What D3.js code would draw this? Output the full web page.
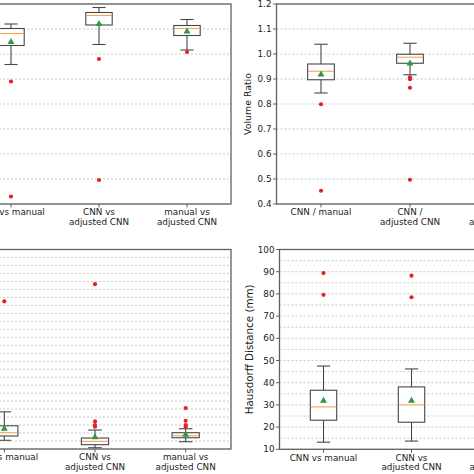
<!DOCTYPE html>
<html>
<head>
<meta charset="utf-8">
<script src="https://cdn.jsdelivr.net/npm/d3@7/dist/d3.min.js"></script>
<style>
  html, body { margin: 0; padding: 0; background: #fff; }
  svg { display: block; font-family: "DejaVu Sans", sans-serif; }
</style>
</head>
<body>
<svg id="chart" width="474" height="474"></svg>
<script>
// ---------- DATA ----------
const catsVs = [["CNN vs manual"], ["CNN vs", "adjusted CNN"], ["manual vs", "adjusted CNN"]];
const catsRatio = [["CNN / manual"], ["CNN /", "adjusted CNN"], ["manual /", "adjusted CNN"]];

// box stats: [whisker low, Q1, median, Q3, whisker high]
const tlBoxes = [[0.879, 0.917, 0.941, 0.951, 0.960], [0.919, 0.958, 0.977, 0.983, 0.993], [0.908, 0.937, 0.951, 0.957, 0.969]];
const tlMeans = [0.925, 0.961, 0.946];
const tlFliers = [[0.845, 0.615], [0.890, 0.648], [0.904]];
const tlGrid = [0.6, 0.65, 0.7, 0.75, 0.8, 0.85, 0.9, 0.95, 1.0];

const trBoxes = [[0.844, 0.897, 0.931, 0.960, 1.039], [0.917, 0.963, 0.987, 0.999, 1.043], null];
const trMeans = [0.920, 0.964, null];
const trFliers = [[0.799, 0.453], [0.907, 0.899, 0.865, 0.497], []];
const trTicks = [0.4, 0.5, 0.6, 0.7, 0.8, 0.9, 1.0, 1.1, 1.2];
const trTickLabels = ["0.4", "0.5", "0.6", "0.7", "0.8", "0.9", "1.0", "1.1", "1.2"];

const blBoxes = [[1.09, 1.63, 2.04, 2.91, 4.66], [0.16, 0.54, 0.96, 1.375, 2.375], [0.91, 1.41, 1.66, 2.04, 2.54]];
const blMeans = [2.59, 1.54, 1.84];
const blFliers = [[18.5], [2.8, 3.0, 3.45, 20.66], [2.75, 3.0, 3.54, 5.125]];
const blGrid = d3.range(0, 26, 1);

const brBoxes = [[13.2, 23.1, 29.1, 36.6, 47.5], [13.7, 22.2, 30.0, 38.1, 46.2], null];
const brMeans = [32.1, 32.1, null];
const brFliers = [[89.4, 79.6], [88.2, 78.5], []];
const brTicks = [10, 20, 30, 40, 50, 60, 70, 80, 90, 100];
const brGrid = d3.range(10, 101, 5);

// ---------- DRAW ----------
const svg = d3.select("#chart");
svg.append("rect").attr("width", 474).attr("height", 474).attr("fill", "#fff");

const FS = 8.8;
const frameColor = "#606060";
const boxColor = "#474747";

function panel(o) {
  const g = svg.append("g");
  const x = d3.scaleLinear().domain([0.5, 3.5]).range([o.left, o.right]);
  const y = d3.scaleLinear().domain(o.domain).range([o.bottom, o.top]);

  g.selectAll("line.grid").data(o.grid).join("line")
    .attr("x1", o.left).attr("x2", o.right)
    .attr("y1", d => y(d)).attr("y2", d => y(d))
    .attr("stroke", "#bdbdbd").attr("stroke-width", 0.8)
    .attr("stroke-dasharray", "2,2");

  const bw = (x(1.3) - x(1.0));
  const cw = bw / 2;

  o.boxes.forEach((b, i) => {
    if (!b) return;
    const cx = x(i + 1);
    const [wl, q1, med, q3, wh] = b;
    const bg = g.append("g").attr("stroke", boxColor).attr("stroke-width", 1.1).attr("fill", "none");
    bg.append("line").attr("x1", cx).attr("x2", cx).attr("y1", y(q3)).attr("y2", y(wh));
    bg.append("line").attr("x1", cx).attr("x2", cx).attr("y1", y(q1)).attr("y2", y(wl));
    bg.append("line").attr("x1", cx - cw / 2).attr("x2", cx + cw / 2).attr("y1", y(wh)).attr("y2", y(wh));
    bg.append("line").attr("x1", cx - cw / 2).attr("x2", cx + cw / 2).attr("y1", y(wl)).attr("y2", y(wl));
    bg.append("rect").attr("x", cx - bw / 2).attr("width", bw)
      .attr("y", y(q3)).attr("height", y(q1) - y(q3)).attr("fill", "#fff");
    g.append("line").attr("x1", cx - bw / 2 + 0.5).attr("x2", cx + bw / 2 - 0.5)
      .attr("y1", y(med)).attr("y2", y(med))
      .attr("stroke", "#f5a25a").attr("stroke-width", 1.1);
    if (o.means[i] != null) {
      g.append("path").attr("d", d3.symbol(d3.symbolTriangle, 21)())
        .attr("transform", `translate(${cx},${y(o.means[i]) + 0.5})`)
        .attr("fill", "#2e9a3a");
    }
    o.fliers[i].forEach(f => {
      g.append("circle").attr("cx", cx).attr("cy", y(f)).attr("r", 2.1).attr("fill", "#e3202c");
    });
  });

  g.append("rect").attr("x", o.left).attr("y", o.top)
    .attr("width", o.right - o.left).attr("height", o.bottom - o.top)
    .attr("fill", "none").attr("stroke", frameColor).attr("stroke-width", 1.3);

  // y ticks (labels only where the axis is inside the picture)
  if (o.ticks) {
    o.ticks.forEach((t, i) => {
      g.append("line").attr("x1", o.left - 3.5).attr("x2", o.left).attr("y1", y(t)).attr("y2", y(t))
        .attr("stroke", frameColor).attr("stroke-width", 1);
      g.append("text").attr("x", o.left - 5).attr("y", y(t)).attr("dy", "0.35em")
        .attr("text-anchor", "end").attr("font-size", FS).attr("fill", "#222")
        .text(o.tickLabels ? o.tickLabels[i] : String(t));
    });
  }

  o.cats.forEach((c, i) => {
    const cx = x(i + 1);
    g.append("line").attr("x1", cx).attr("x2", cx).attr("y1", o.bottom).attr("y2", o.bottom + 3.5)
      .attr("stroke", frameColor).attr("stroke-width", 1);
    c.forEach((line, k) => {
      g.append("text").attr("x", cx).attr("y", o.bottom + 11.3 + k * 9.8)
        .attr("text-anchor", "middle").attr("font-size", FS).attr("fill", "#222").text(line);
    });
  });

  if (o.ylabel) {
    g.append("text")
      .attr("transform", `translate(${o.ylabelX},${(o.top + o.bottom) / 2}) rotate(-90)`)
      .attr("text-anchor", "middle").attr("dy", "0.35em")
      .attr("font-size", o.ylabelSize).attr("fill", "#222").text(o.ylabel);
  }
}

panel({ left: -33, right: 231, top: 4, bottom: 204, domain: [0.6, 1.0],
  grid: tlGrid, ticks: null,
  boxes: tlBoxes, means: tlMeans, fliers: tlFliers, cats: catsVs });

panel({ left: 276.5, right: 543.5, top: 4, bottom: 204, domain: [0.4, 1.2],
  grid: trTicks, ticks: trTicks, tickLabels: trTickLabels,
  boxes: trBoxes, means: trMeans, fliers: trFliers, cats: catsRatio,
  ylabel: "Volume Ratio", ylabelX: 248, ylabelSize: 9.4 });

panel({ left: -41, right: 231, top: 249.5, bottom: 449, domain: [0, 25],
  grid: blGrid, ticks: null,
  boxes: blBoxes, means: blMeans, fliers: blFliers, cats: catsVs });

panel({ left: 279.5, right: 543.5, top: 249.5, bottom: 449.3, domain: [10, 100],
  grid: brGrid, ticks: brTicks,
  boxes: brBoxes, means: brMeans, fliers: brFliers, cats: catsVs,
  ylabel: "Hausdorff Distance (mm)", ylabelX: 249, ylabelSize: 10.3 });
</script>
</body>
</html>
